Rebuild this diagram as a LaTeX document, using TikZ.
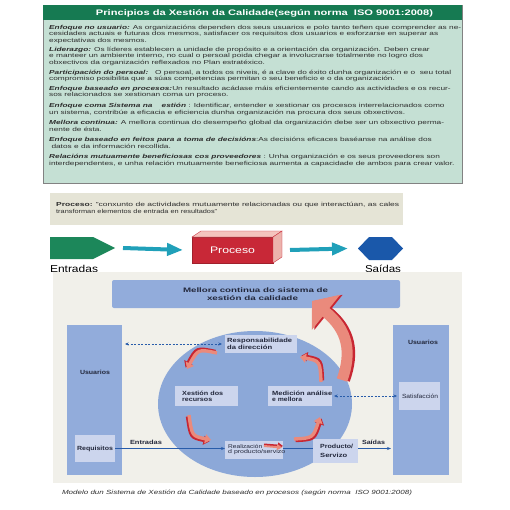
\documentclass[tikz,border=0pt]{standalone}
\usepackage{fontspec}
\setmainfont{Liberation Sans}
\usepackage{graphicx}
\usetikzlibrary{arrows.meta,calc}

\definecolor{hdrgreen}{RGB}{22,122,82}
\definecolor{bodygreen}{RGB}{197,224,212}
\definecolor{boxgray}{RGB}{130,130,130}
\definecolor{txt}{RGB}{45,45,45}
\definecolor{beige}{RGB}{229,228,214}
\definecolor{pentgreen}{RGB}{28,135,90}
\definecolor{tealarr}{RGB}{32,160,185}
\definecolor{procred}{RGB}{200,40,55}
\definecolor{procpink}{RGB}{244,196,190}
\definecolor{procside}{RGB}{236,178,172}
\definecolor{hexblue}{RGB}{26,88,170}
\definecolor{bggray}{RGB}{241,240,234}
\definecolor{barblue}{RGB}{146,172,219}
\definecolor{ellblue}{RGB}{140,168,216}
\definecolor{innerbox}{RGB}{204,213,237}
\definecolor{dashblue}{RGB}{40,92,170}
\definecolor{arrpink}{RGB}{234,138,124}
\definecolor{arrred}{RGB}{200,38,50}
\definecolor{labtxt}{RGB}{35,40,60}

\newcommand\fitw[2]{\resizebox{#1pt}{\height}{#2}}
\newcommand\bodyxs{1.43}
\newcommand\bl[1]{\scalebox{\bodyxs}[1]{#1}}
\newcommand\bi[1]{\textbf{\textit{#1}}}

\begin{document}
\begin{tikzpicture}[x=1pt,y=-1pt,
  bodyline/.style={anchor=west, inner sep=0pt, font=\fontsize{5.8}{6}\selectfont, text=txt},
  intext/.style={anchor=west, inner sep=0pt, font=\bfseries\fontsize{6}{7}\selectfont, text=labtxt},
  plainbox/.style={inner sep=0pt, outer sep=0pt},
  tealflow/.style={draw=tealarr, line width=4pt, -{Triangle[width=12pt,length=16pt]}},
  dashar/.style={draw=dashblue, line width=0.6pt, dash pattern=on 2pt off 1.5pt, {Stealth[length=3.5pt,width=3pt]}-{Stealth[length=3.5pt,width=3pt]}},
  flowar/.style={draw=dashblue, line width=0.6pt, -{Stealth[length=4pt,width=3pt]}},
  flowline/.style={draw=dashblue, line width=0.6pt},
  cycpink/.style={draw=arrpink, line width=3.4pt, -{Triangle[width=9pt,length=6pt]}},
  cycdark/.style={draw=arrred, line width=3.4pt, -{Triangle[width=9pt,length=6pt]}}
]
\useasboundingbox (0,0) rectangle (510,510);

% ---------- principles box ----------
\node[plainbox, draw=boxgray, fill=bodygreen, line width=0.8pt, minimum width=419pt, minimum height=178pt, anchor=north west] (prbox) at (43,5) {};
\node[plainbox, fill=hdrgreen, minimum width=419pt, minimum height=15pt, anchor=north west] (hdr) at (43,5) {};
\node[plainbox, text=white, font=\bfseries\fontsize{8}{9}\selectfont] (title) at (264.5,13) {\fitw{337}{Principios da Xestión da Calidade(según norma\ \ ISO 9001:2008)}};

\node[bodyline] (l1) at (49,28) {\bl{\bi{Enfoque no usuario:} As organizacións dependen dos seus usuarios e polo tanto teñen que comprender as ne-}};
\node[bodyline] (l2) at (49,34.5) {\bl{cesidades actuais e futuras dos mesmos, satisfacer os requisitos dos usuarios e esforzarse en superar as}};
\node[bodyline] (l3) at (49,41) {\bl{expectativas dos mesmos.}};
\node[bodyline] (l4) at (49,50) {\bl{\bi{Liderazgo:} Os líderes establecen a unidade de propósito e a orientación da organización. Deben crear}};
\node[bodyline] (l5) at (49,56.5) {\bl{e manteer un ambiente interno, no cual o persoal poida chegar a involucrarse totalmente no logro dos}};
\node[bodyline] (l6) at (49,63) {\bl{obxectivos da organización reflexados no Plan estratéxico.}};
\node[bodyline] (l7) at (49,72.5) {\bl{\bi{Participación do persoal:}\ \ \ O persoal, a todos os niveis, é a clave do éxito dunha organización e o\ \ seu total}};
\node[bodyline] (l8) at (49,79) {\bl{compromiso posibilita que a súas competencias permitan o seu beneficio e o da organización.}};
\node[bodyline] (l9) at (49,89) {\bl{\bi{Enfoque baseado en procesos:}Un resultado acádase máis eficientemente cando as actividades e os recur-}};
\node[bodyline] (l10) at (49,95.5) {\bl{sos relacionados se xestionan coma un proceso.}};
\node[bodyline] (l11) at (49,106) {\bl{\bi{Enfoque coma Sistema na\ \ \ \ estión} : Identificar, entender e xestionar os procesos interrelacionados como}};
\node[bodyline] (l12) at (49,112.5) {\bl{un sistema, contribúe a eficacia e eficiencia dunha organización na procura dos seus obxectivos.}};
\node[bodyline] (l13) at (49,123) {\bl{\bi{Mellora continua:} A mellora continua do desempeño global da organización debe ser un obxectivo perma-}};
\node[bodyline] (l14) at (49,129.5) {\bl{nente de ésta.}};
\node[bodyline] (l15) at (49,140) {\bl{\bi{Enfoque baseado en feitos para a toma de decisións}:As decisións eficaces baséanse na análise dos}};
\node[bodyline] (l16) at (49,146.5) {\bl{\ datos e da información recollida.}};
\node[bodyline] (l17) at (49,157) {\bl{\bi{Relacións mutuamente beneficiosas cos proveedores} : Unha organización e os seus proveedores son}};
\node[bodyline] (l18) at (49,163.5) {\bl{interdependentes, e unha relación mutuamente beneficiosa aumenta a capacidade de ambos para crear valor.}};

% ---------- definition box ----------
\node[plainbox, fill=beige, minimum width=353pt, minimum height=32pt, anchor=north west] (defbox) at (50,193) {};
\node[bodyline] (d1) at (56,205) {\fitw{343}{\textbf{Proceso:} "conxunto de actividades mutuamente relacionadas ou que interactúan, as cales}};
\node[bodyline] (d2) at (56,211.5) {\fitw{161}{transforman elementos de entrada en resultados"}};

% ---------- input / process / output row ----------
\fill[pentgreen] (50,237) -- (93,237) -- (115,248) -- (93,259) -- (50,259) -- cycle;
\node[plainbox, minimum width=65pt, minimum height=22pt] (inp) at (82.5,248) {};
\node[plainbox, fill=procred, draw=procred!80!black, line width=0.3pt, minimum width=81pt, minimum height=26pt, text=white, font=\fontsize{9.5}{10}\selectfont] (proc) at (232.5,250) {\fitw{45}{Proceso}};
\fill[procpink, draw=procred, line width=0.4pt] (proc.north west) -- ++(9,-6) -- ($(proc.north east)+(9,-6)$) -- (proc.north east) -- cycle;
\fill[procside, draw=procred, line width=0.4pt] (proc.north east) -- ++(9,-6) -- ++(0,26) -- (proc.south east) -- cycle;
\fill[hexblue] (358,248.5) -- (369,237) -- (392,237) -- (403,248.5) -- (392,260) -- (369,260) -- cycle;
\node[plainbox, minimum width=45pt, minimum height=23pt] (outp) at (380.5,248.5) {};
\draw[tealflow] ([xshift=8pt]inp.east) -- ([xshift=-9pt]proc.west);
\draw[tealflow] ([xshift=17pt]proc.east) -- ([xshift=-10pt]outp.west);
\node[plainbox, anchor=west, font=\fontsize{10}{11}\selectfont, text=black] (entlab) at (50,269) {\fitw{48}{Entradas}};
\node[plainbox, anchor=west, font=\fontsize{10}{11}\selectfont, text=black] (sailab) at (365,269) {\fitw{36}{Saídas}};

% ---------- process model ----------
\node[plainbox, fill=bggray, minimum width=409pt, minimum height=211pt, anchor=north west] (bg) at (53,272) {};
\node[plainbox, fill=barblue, rounded corners=2pt, minimum width=288pt, minimum height=28pt] (bar) at (256,294) {};
\node[plainbox, font=\bfseries\fontsize{6.5}{7}\selectfont, text=labtxt] (barl1) at (255.5,290) {\fitw{145}{Mellora continua do sistema de}};
\node[plainbox, font=\bfseries\fontsize{6.5}{7}\selectfont, text=labtxt] (barl2) at (252.5,298) {\fitw{91}{xestión da calidade}};

\node[plainbox, fill=barblue, minimum width=55pt, minimum height=150pt] (lcol) at (94.5,400) {};
\node[plainbox, fill=barblue, minimum width=56pt, minimum height=150pt] (rcol) at (421,400) {};
\node[intext, anchor=center] (lusu) at (95,372) {\fitw{30}{Usuarios}};
\node[intext, anchor=center] (rusu) at (423,342) {\fitw{30}{Usuarios}};
\node[plainbox, fill=innerbox, minimum width=40pt, minimum height=27pt] (req) at (95,448.5) {};
\node[intext, anchor=center] (reqt) at (95,449) {\fitw{36}{Requisitos}};
\node[plainbox, fill=innerbox, minimum width=41pt, minimum height=28pt] (sat) at (419.5,396) {};
\node[intext, anchor=center, font=\fontsize{6}{7}\selectfont] (satt) at (420,396) {\fitw{36}{Satisfacción}};

\fill[ellblue] (255,404) ellipse [x radius=97, y radius=73];

% big improvement arrow
\draw[draw=arrred, line width=11pt, -{Triangle[width=44pt,length=18pt]}] (344.5,380) .. controls (354.5,352) and (350.5,330) .. (314.5,301);
\draw[draw=arrpink, line width=11pt, -{Triangle[width=44pt,length=18pt]}] (342,380) .. controls (352,352) and (348,330) .. (312,301);

% inner boxes
\node[plainbox, fill=innerbox, minimum width=72pt, minimum height=18pt] (resp) at (261,344) {};
\node[plainbox, fill=innerbox, minimum width=63pt, minimum height=20pt] (xes) at (206.5,396) {};
\node[plainbox, fill=innerbox, minimum width=64pt, minimum height=20pt] (med) at (300,396) {};
\node[plainbox, fill=innerbox, minimum width=58pt, minimum height=18pt] (real) at (254,450) {};
\node[plainbox, fill=innerbox, minimum width=45pt, minimum height=24pt] (prod) at (335.5,451) {};

\node[intext] (respa) at (227,341) {\fitw{65}{Responsabilidade}};
\node[intext] (respb) at (227,347.5) {\fitw{45}{da dirección}};
\node[intext] (xesa) at (182,393) {\fitw{41}{Xestión dos}};
\node[intext] (xesb) at (182,399.5) {\fitw{30}{recursos}};
\node[intext] (meda) at (272,393) {\fitw{60}{Medición análise}};
\node[intext] (medb) at (272,399.5) {\fitw{30}{e mellora}};
\node[intext, font=\fontsize{5.5}{6}\selectfont] (reala) at (228,446) {\fitw{34}{Realización}};
\node[intext, font=\fontsize{5.5}{6}\selectfont] (realb) at (228,452.5) {\fitw{57}{d producto/servizo}};
\node[intext] (proda) at (320,446) {\fitw{33}{Producto/}};
\node[intext] (prodb) at (320,455) {\fitw{27}{Servizo}};

% cycle arrows
\draw[cycdark] (215.5,351.5) .. controls (196.5,347.5) .. (185.5,367.5);
\draw[cycpink] (217,353) .. controls (198,349) .. (187,369);
\draw[cycdark] (187.5,416.5) .. controls (190.5,437.5) .. (209.5,441.5);
\draw[cycpink] (189,415) .. controls (192,436) .. (211,440);
\draw[cycdark] (295.5,440.5) .. controls (314.5,439.5) .. (321.5,418.5);
\draw[cycpink] (294,439) .. controls (313,438) .. (320,417);
\draw[cycdark] (322.5,380.5) .. controls (321.5,359.5) .. (301.5,355.5);
\draw[cycpink] (321,382) .. controls (320,361) .. (300,357);
\draw[draw=arrred, line width=2pt, -{Triangle[width=6pt,length=5pt]}] (264,444.5) -- (283,446);
\draw[draw=arrpink, line width=2pt, -{Triangle[width=6pt,length=5pt]}] (264,446) -- (282,447.5);

% connectors
\draw[dashar] ([xshift=3pt]lcol.east |- resp.west) -- ([xshift=-3pt]resp.west);
\draw[dashar] ([xshift=2pt]med.east) -- ([xshift=-2pt]sat.west);
\draw[flowar] (req.east) -- (req.east -| real.west);
\draw[flowline] (real.east |- req.east) -- (prod.west |- req.east);
\draw[flowar] (prod.east |- req.east) -- ([xshift=-2pt]rcol.west |- req.east);
\node[intext, anchor=center] (entr2) at (146,442) {\fitw{32}{Entradas}};
\node[intext, anchor=center] (sai2) at (373.5,442) {\fitw{23}{Saídas}};

% caption
\node[plainbox, anchor=west, font=\itshape\fontsize{6}{7}\selectfont, text=txt] (cap) at (62,493) {\fitw{350}{Modelo dun Sistema de Xestión da Calidade baseado en procesos (según norma\ \ ISO 9001:2008)}};
\end{tikzpicture}
\end{document}
